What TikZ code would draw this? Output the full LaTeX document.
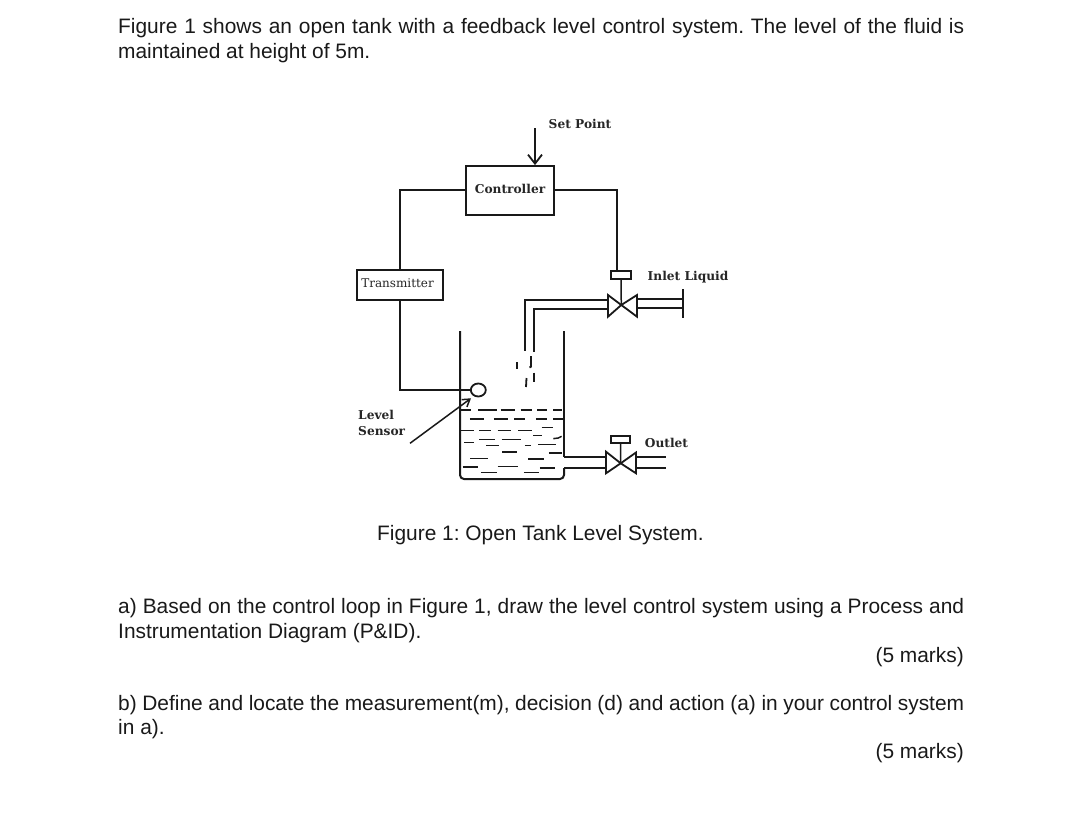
\documentclass[tikz,border=0pt]{standalone}
\usepackage{fontspec}
\setmainfont{Liberation Sans}
\newfontfamily\lblfont{DejaVu Serif}
\usetikzlibrary{arrows.meta,shapes.geometric}
\tikzset{
  ln/.style={line width=1.8pt,black!90},
  thin ln/.style={line width=1.5pt,black!90},
  boxn/.style={draw=black!90,line width=1.8pt,inner sep=0pt,fill=white},
  lbl/.style={inner sep=0pt,font=\lblfont\bfseries\fontsize{12.2}{14}\selectfont,text=black!85},
  body/.style={inner sep=0pt,anchor=base west,font=\fontsize{20.9}{24}\selectfont\frenchspacing,text=black!90},
  bodyr/.style={inner sep=0pt,anchor=base east,font=\fontsize{20.9}{24}\selectfont,text=black!90},
  barb/.style={-{Straight Barb[length=#1pt,width=14pt]}},
}
\newcommand{\jline}[1]{\makebox[846pt][s]{#1}}
\begin{document}
\begin{tikzpicture}[x=1pt,y=-1pt]
\useasboundingbox (0,0) rectangle (1079,816);
% body text
\node[body] (t1) at (118,34) {\jline{Figure 1 shows an open tank with a feedback level control system. The level of the fluid is}};
\node[body] (t2) at (118,59) {maintained at height of 5m.};
\node[body] (cap) at (377,540) {Figure 1: Open Tank Level System.};
\node[body] (a1) at (118,613) {\jline{a) Based on the control loop in Figure 1, draw the level control system using a Process and}};
\node[body] (a2) at (118,638) {Instrumentation Diagram (P\&ID).};
\node[bodyr] (a3) at (964,662) {(5 marks)};
\node[body] (b1) at (118,710) {\jline{b) Define and locate the measurement(m), decision (d) and action (a) in your control system}};
\node[body] (b2) at (118,734) {in a).};
\node[bodyr] (b3) at (964,758) {(5 marks)};
% boxes
\node[boxn,minimum width=88pt,minimum height=49pt] (ctrl) at (510,190.5) {};
\node[lbl] (ctrltxt) at (510,189) {Controller};
\node[boxn,minimum width=86pt,minimum height=30pt] (tx) at (400,285) {};
\node[lbl,font=\lblfont\fontsize{12}{14}\selectfont] (txtxt) at (397.5,283) {Transmitter};
\node[draw=black!90,line width=1.8pt,ellipse,minimum width=15pt,minimum height=13pt,inner sep=0pt] (sens) at (478.3,390) {};
\node[boxn,minimum width=20pt,minimum height=8pt] (ia) at (621,275) {};
\node[boxn,minimum width=19pt,minimum height=7pt] (oa) at (620.5,439.5) {};
% labels
\node[lbl] (sp) at (580,124) {Set Point};
\node[lbl] (il) at (688,277) {Inlet Liquid};
\node[lbl,anchor=west] (ls1) at (358,414.5) {Level};
\node[lbl,anchor=west] (ls2) at (358,431) {Sensor};
\node[lbl] (ol) at (666.5,443) {Outlet};
% control loop
\coordinate (spstart) at (535,128);
\draw[ln,barb=9] (spstart) -- (spstart |- ctrl.north);
\coordinate (c1) at (400,190);
\draw[ln] (ctrl.west |- c1) -- (c1) -- (c1 |- tx.north);
\coordinate (c2) at (617,190);
\draw[ln] (ctrl.east |- c2) -- (c2) -- (c2 |- ia.north);
\coordinate (c3) at (400,390);
\draw[ln] (c3 |- tx.south) -- (c3) -- (sens.west);
% inlet valve
\coordinate (iv) at (621.3,305);
\draw[thin ln] (ia.south) -- (iv);
\draw[ln,line join=miter] (iv) -- (608,295) -- (608,316.7) -- cycle;
\draw[ln,line join=miter] (iv) -- (637,295) -- (637,316.7) -- cycle;
\coordinate (icap1) at (683,289.3);
\coordinate (icap2) at (683,317.7);
\draw[ln] (icap1) -- (icap2);
\draw[ln] (637,299) -- (683,299);
\draw[ln] (637,308) -- (683,308);
\draw[ln] (608,300) -- (525,300) -- (525,350.7);
\draw[ln] (608,309) -- (534,309) -- (534,351.7);
% drips
\draw[ln] (517,362.3) -- (517,369.3);
\draw[ln] (531,356) -- (531,366.7) -- (529.5,367.5);
\draw[ln] (534,372.7) -- (534,381.7);
\draw[ln] (526.5,378) -- (526,387);
% tank
\draw[line width=2pt,black!90,rounded corners=4pt] (460,331) -- (460,479) -- (564,479) -- (564,468);
\draw[line width=2pt,black!90] (564,331) -- (564,457);
% outlet valve
\coordinate (ov) at (620.7,463.3);
\draw[thin ln] (oa.south) -- (ov);
\draw[ln,line join=miter] (ov) -- (606,451.7) -- (606,473.3) -- cycle;
\draw[ln,line join=miter] (ov) -- (636,452.5) -- (636,473.3) -- cycle;
\draw[ln] (564,457) -- (606,457);
\draw[ln] (564,468) -- (606,468);
\draw[ln] (636,457) -- (666,457);
\draw[ln] (636,468) -- (666,468);
% sensor pointer
\coordinate (sa) at (410,443.3);
\coordinate (sb) at (471,398.3);
\draw[thin ln,-{Straight Barb[length=7pt,width=9pt]}] (sa) -- (sb);
% liquid dashes (coordinates in tripled pixels)
\begin{scope}[shift={(345,370)},x=0.3333pt,y=-0.3333pt]
\foreach \y/\a/\b in {120/345/378,120/400/455,120/467/510,120/527/560,120/577/605,120/625/652,
 147/375/417,147/447/490,147/508/540,147/573/605,147/625/655,
 181/345/388,181/403/437,181/458/498,181/520/560,173/590/625,
 197/565/590,208/403/450,208/470/527,217/358/388,
 226/424/462,226/540/557,224/580/632,246/472/516,249/612/650,
 266/376/428,267/550/596,291/353/400,289/458/520,294/585/630,
 308/408/455,308/537/583}
  \draw[thin ln] (\a,\y) -- (\b,\y);
\draw[thin ln] (625,206) -- (640,204) -- (650,199);
\end{scope}
\end{tikzpicture}
\end{document}
